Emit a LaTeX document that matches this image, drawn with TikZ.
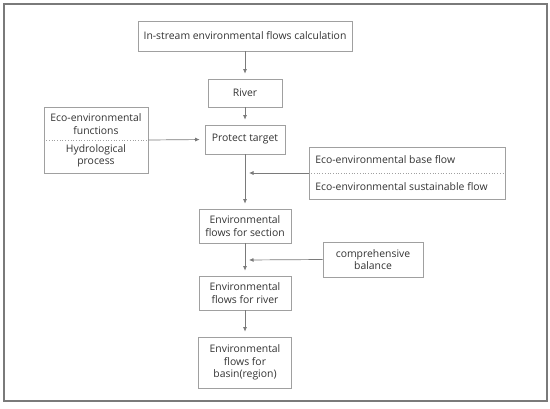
\documentclass[tikz,border=0pt]{standalone}
\usepackage{fontspec}
\setmainfont{Open Sans}
\usetikzlibrary{arrows.meta}
\definecolor{txtgray}{HTML}{333333}
\definecolor{boxgray}{HTML}{A0A0A0}
\definecolor{linegray}{HTML}{7A7A7A}
\tikzset{
	box/.style={draw=boxgray, text=txtgray, align=center, inner sep=0pt, font=\fontsize{10.4bp}{12.5bp}\selectfont},
	flow/.style={draw=linegray, -{Latex[length=4.5bp,width=4bp]}, shorten >=5bp},
	txt/.style={text=txtgray, inner sep=0pt, align=center, font=\fontsize{10.4bp}{12.5bp}\selectfont}
}
\begin{document}
\begin{tikzpicture}[x=1bp, y=-1bp, line width=0.7bp]
			\useasboundingbox (0,0) rectangle (550,408);
			%frame
			\draw[linegray, line width=1.5bp] (4,4) rectangle (547,401);
			
			%main column
			\node[box, minimum width=214bp, minimum height=30bp] (calc) at (245,36){In-stream environmental flows calculation};
			\node[box, minimum width=74bp, minimum height=28bp] (river) at (245,93){River};
			\node[box, minimum width=80bp, minimum height=29bp] (protect) at (245,139.5){Protect target};
			\node[box, minimum width=92bp, minimum height=34bp] (section) at (245,226){Environmental\\flows for section};
			\node[box, minimum width=92bp, minimum height=34bp] (forriver) at (245,293){Environmental\\flows for river};
			\node[box, minimum width=93bp, minimum height=51bp] (basin) at (245,362.5){Environmental\\flows for\\basin(region)};
			
			%side boxes
			\node[box, minimum width=104bp, minimum height=66bp] (funcs) at (96,140){};
			\draw[boxgray, dotted] (funcs.west) -- (funcs.east);
			\node[txt] (ecofunc) at (96,124){Eco-environmental\\functions};
			\node[txt] (hydro) at (96,156){Hydrological\\process};
			
			\node[box, minimum width=196bp, minimum height=52bp] (base) at (407,173){};
			\draw[boxgray, dotted] (base.west) -- (base.east);
			\node[txt, anchor=west] (baseflow) at (315,160){Eco-environmental base flow};
			\node[txt, anchor=west] (sustflow) at (315,187){Eco-environmental sustainable flow};
			
			\node[box, minimum width=100bp, minimum height=35bp] (balance) at (373,259.5){comprehensive\\balance};
			
			%connectors
			\coordinate (j1) at (245,173);
			\coordinate (j2) at (245,260);
			\draw[flow] (calc) -- (river);
			\draw[flow] (river) -- (protect);
			\draw[flow] (funcs.east) -- (protect.west);
			\draw[flow] (protect) -- (section);
			\draw[flow, shorten >=4bp] (base.west) -- (j1);
			\draw[flow] (section) -- (forriver);
			\draw[flow, shorten >=4bp] (balance.west) -- (j2);
			\draw[flow] (forriver) -- (basin);
\end{tikzpicture}
\end{document}
